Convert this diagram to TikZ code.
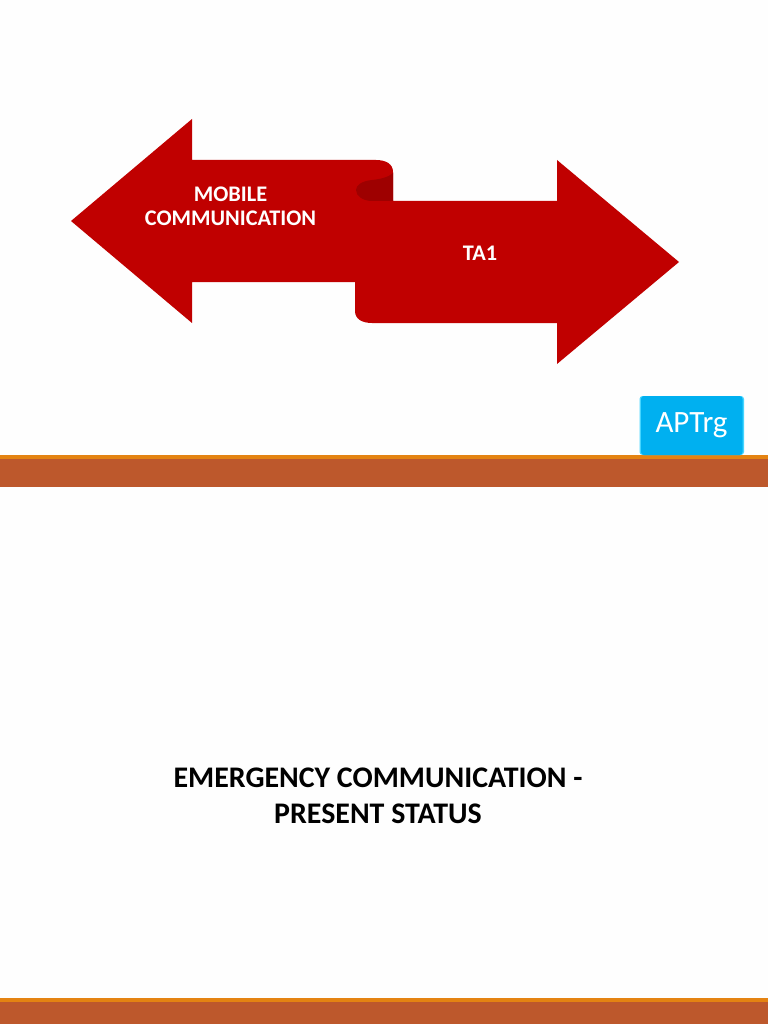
\documentclass[tikz,border=0pt]{standalone}
\usepackage{fontspec}
\setmainfont{Carlito}
\definecolor{arrowred}{HTML}{C00000}
\definecolor{folddark}{HTML}{9E0000}
\definecolor{badgeblue}{HTML}{00B0F0}
\definecolor{badgeedge}{HTML}{45D5FF}
\definecolor{barorange}{HTML}{E48312}
\definecolor{barbrown}{HTML}{BD582C}
\definecolor{pagewhite}{HTML}{FEFEFE}
\tikzset{
  arrowlabel/.style={text=white,font=\bfseries\fontsize{22.3}{24}\selectfont,align=center,inner sep=0pt},
  titlelabel/.style={text=black,font=\bfseries\fontsize{29.9}{36}\selectfont,align=center,inner sep=0pt},
  barfill/.style={fill=barbrown,draw=none},
  baredge/.style={fill=barorange,draw=none}
}
\begin{document}
\begin{tikzpicture}[x=1pt,y=-1pt]
\useasboundingbox (0,0) rectangle (768,1024);
\fill[pagewhite] (0,0) rectangle (768,1024);
% double arrow
\fill[arrowred] (71,221) -- (192,119) -- (192,160) -- (376,160)
  .. controls (386,160) and (393,164) .. (393,172) -- (393,201)
  -- (557,201) -- (557,160) -- (679,262) -- (557,364) -- (557,323)
  -- (372,323) .. controls (362,323) and (355,319) .. (355,311)
  -- (355,282) -- (192,282) -- (192,323) -- cycle;
% fold
\fill[folddark] (393,173) .. controls (389,177) and (381,179) .. (372,180)
  .. controls (362,181) and (356,185) .. (356,190)
  .. controls (356,196) and (363,201) .. (372,201) -- (393,201) -- cycle;
% labels
\node[arrowlabel] (mobile) at (230.5,206) {MOBILE\\COMMUNICATION};
\node[arrowlabel] (ta) at (480,253) {TA1};
% bars
\fill[barfill] (0,459) rectangle (768,487);
\fill[baredge] (0,455) rectangle (768,459);
\fill[barfill] (0,1002) rectangle (768,1024);
\fill[baredge] (0,998) rectangle (768,1002);
% badge
\fill[badgeedge,rounded corners=3pt] (639.5,396) rectangle (744,455);
\fill[badgeblue,rounded corners=3pt] (641,396) rectangle (742.5,455);
\node[text=white,font=\fontsize{31}{36}\selectfont,inner sep=0pt] (badge) at (691.5,425) {APTrg};
% title
\node[titlelabel] (title) at (378,796) {EMERGENCY COMMUNICATION -\\PRESENT STATUS};
\end{tikzpicture}
\end{document}
